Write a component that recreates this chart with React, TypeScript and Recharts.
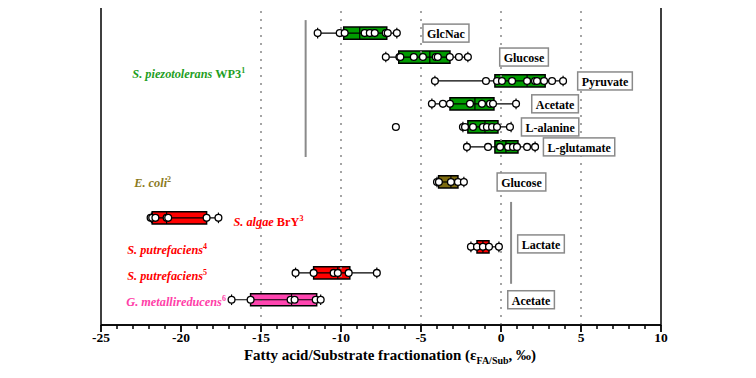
import { useLayoutEffect, useRef, useState } from 'react';
import { ComposedChart, XAxis, YAxis, Scatter, ReferenceArea, ReferenceLine } from 'recharts';

const FONT = '"Liberation Serif", "Times New Roman", serif';

// one row per box, top to bottom
const rowNames = [
  'WP3 GlcNac', 'WP3 Glucose', 'WP3 Pyruvate', 'WP3 Acetate', 'WP3 L-alanine', 'WP3 L-glutamate',
  'E. coli Glucose', 'S. algae', 'S. putrefaciens4 Lactate', 'S. putrefaciens5', 'G. metallireducens Acetate',
];
const rowPos = [1.02, 1.92, 2.82, 3.68, 4.55, 5.3, 6.62, 7.97, 9.06, 10.04, 11.05];
const minV = [-11.46, -7.2, -4.13, -4.32, -2.38, -2.13, -4.0, -21.85, -1.88, -12.84, -16.84];
const q1V = [-9.83, -6.39, -0.38, -3.19, -2.07, -0.38, -3.9, -21.8, -1.5, -11.71, -15.65];
const medV = [-8.83, -4.45, 1.63, -1.63, -1.0, 0.31, -3.13, -20.9, -1.13, -10.2, -13.09];
const q3V = [-7.14, -3.19, 2.76, -0.44, -0.19, 1.06, -2.69, -18.4, -0.75, -9.45, -11.52];
const maxV = [-6.51, -2.07, 3.88, 0.94, 0.63, 2.13, -2.32, -17.66, -0.13, -7.76, -11.27];

const rowPoints = [
  [-11.46, -10.08, -9.77, -8.52, -8.2, -7.89, -7.2, -7.08, -6.51],
  [-7.2, -6.35, -6.29, -5.45, -4.88, -4.07, -3.95, -3.2, -2.63, -2.07],
  [-4.13, -0.94, -0.25, 0.06, 0.69, 1.63, 2.13, 2.25, 2.69, 3.19, 3.88],
  [-4.32, -3.63, -3.19, -1.94, -1.19, -0.69, -0.5, 0.94],
  [-6.57, -2.38, -2.25, -1.75, -1.13, -0.88, -0.56, -0.25, 0.56],
  [-2.13, -0.81, -0.06, 0.44, 0.75, 1.0, 1.63, 2.13],
  [-4.0, -3.88, -3.13, -2.69, -2.32],
  [-21.9, -21.8, -21.6, -20.9, -20.8, -18.4, -17.66],
  [-1.88, -1.5, -1.13, -0.75, -0.13],
  [-12.84, -11.71, -10.46, -10.2, -9.52, -7.76],
  [-16.84, -15.65, -13.15, -12.9, -11.58, -11.27],
];

const substrateNames = ['GlcNac', 'Glucose', 'Pyruvate', 'Acetate', 'L-alanine', 'L-glutamate', 'Glucose', 'Lactate', 'Acetate'];
const substrateX = [-3.44, 1.44, 6.5, 3.38, 3.07, 4.88, 1.28, 2.5, 1.88];
const substrateY = [1.02, 1.92, 2.82, 3.68, 4.55, 5.3, 6.62, 8.95, 11.05];

const speciesItalic = ['S. piezotolerans', 'E. coli', 'S. algae', 'S. putrefaciens', 'S. putrefaciens', 'G. metallireducens'];
const speciesPlain = [' WP3', '', ' BrY', '', '', ''];
const speciesSup = ['1', '2', '3', '4', '5', '6'];
const speciesX = [-23.04, -22.92, -16.72, -23.36, -23.36, -23.42];
const speciesY = [2.56, 6.65, 8.12, 9.17, 10.15, 11.13];

const majorTicks = [-25, -20, -15, -10, -5, 0, 5, 10];
const minorTicks = [-24, -23, -22, -21, -19, -18, -17, -16, -14, -13, -12, -11, -9, -8, -7, -6, -4, -3, -2, -1, 1, 2, 3, 4, 6, 7, 8, 9];
const gridX = [-15, -10, -5, 0, 5];

// styling per row
const boxFill = ['#009c00', '#009c00', '#009c00', '#009c00', '#009c00', '#009c00', '#7d6b0f', '#ff0000', '#ff0000', '#ff0000', '#ff45b0'];
const speciesColor = ['#1f9e1f', '#8b7a1e', '#ff0000', '#ff0000', '#ff0000', '#ff40a8'];
const HALF = 0.23;
const CAP = 0.2;
const Y_MAX = 12;

const pointData = rowPoints.flatMap((pts, i) => pts.map((x) => ({ x, y: rowPos[i] })));
const substrateData = substrateNames.map((name, i) => ({ x: substrateX[i], y: substrateY[i], name }));
const speciesData = speciesItalic.map((it, i) => ({
  x: speciesX[i], y: speciesY[i], it, plain: speciesPlain[i], sup: speciesSup[i], color: speciesColor[i],
}));

function BoxLabel({ cx, cy, name }: { cx: number; cy: number; name: string }) {
  const ref = useRef<SVGTextElement>(null);
  const [w, setW] = useState(name.length * 6);
  useLayoutEffect(() => {
    if (ref.current) setW(ref.current.getComputedTextLength());
  }, [name]);
  return (
    <g>
      <rect x={cx - w / 2 - 4} y={cy - 9} width={w + 8} height={18} fill="#fff" stroke="#8a8a8a" strokeWidth={1.5} />
      <text ref={ref} x={cx} y={cy + 1} textAnchor="middle" dominantBaseline="central"
        fontFamily={FONT} fontWeight="bold" fontSize={12} fill="#000">
        {name}
      </text>
    </g>
  );
}

const SpeciesLabel = (props: any) => {
  const { cx, cy, payload } = props;
  return (
    <text x={cx} y={cy} dominantBaseline="central" fontFamily={FONT} fontWeight="bold" fontSize={12.3} fill={payload.color}>
      <tspan fontStyle="italic">{payload.it}</tspan>
      {payload.plain && <tspan>{payload.plain}</tspan>}
      <tspan fontSize={8} dy={-4}>{payload.sup}</tspan>
    </text>
  );
};

export default function App() {
  return (
    <div style={{ marginTop: -8, marginLeft: -8, background: '#fff', position: 'relative', width: 756, height: 378 }}>
      <ComposedChart width={756} height={378} margin={{ top: 6, right: 95, bottom: 8, left: 101 }}>
        <XAxis type="number" dataKey="x" domain={[-25, 10]} ticks={majorTicks} interval={0}
          tick={{ fontFamily: FONT, fontWeight: 'bold', fontSize: 13.5, fill: '#000' }}
          tickLine={{ stroke: '#000', strokeWidth: 1.8 }} tickSize={7} tickMargin={0}
          axisLine={{ stroke: '#000', strokeWidth: 1.5 }} height={45} />
        <YAxis type="number" dataKey="y" domain={[0, Y_MAX]} reversed width={0} tick={false} tickLine={false} axisLine={false} />

        <ReferenceArea x1={-25} x2={10} y1={0} y2={Y_MAX} fill="none" stroke="#000" strokeWidth={1.5} />
        {minorTicks.map((t) => (
          <ReferenceLine key={'m' + t} ifOverflow="visible" segment={[{ x: t, y: Y_MAX }, { x: t, y: Y_MAX + 0.15 }]} stroke="#000" strokeWidth={1.5} />
        ))}
        {gridX.map((g) => (
          <ReferenceLine key={g} x={g} stroke="#8f8f8f" strokeWidth={1.6} strokeDasharray="2 6" />
        ))}
        <ReferenceLine segment={[{ x: -12.21, y: 0.53 }, { x: -12.21, y: 5.68 }]} stroke="#8a8a8a" strokeWidth={2} />
        <ReferenceLine segment={[{ x: 0.63, y: 7.37 }, { x: 0.63, y: 10.45 }]} stroke="#8a8a8a" strokeWidth={2} />

        {rowNames.map((n, i) => (
          <ReferenceLine key={n + 'w'} segment={[{ x: minV[i], y: rowPos[i] }, { x: maxV[i], y: rowPos[i] }]} stroke="#000" strokeWidth={1.2} />
        ))}
        {rowNames.map((n, i) => (
          <ReferenceLine key={n + 'c1'} segment={[{ x: minV[i], y: rowPos[i] - CAP }, { x: minV[i], y: rowPos[i] + CAP }]} stroke="#000" strokeWidth={1.2} />
        ))}
        {rowNames.map((n, i) => (
          <ReferenceLine key={n + 'c2'} segment={[{ x: maxV[i], y: rowPos[i] - CAP }, { x: maxV[i], y: rowPos[i] + CAP }]} stroke="#000" strokeWidth={1.2} />
        ))}
        {rowNames.map((n, i) => (
          <ReferenceArea key={n + 'b'} x1={q1V[i]} x2={q3V[i]} y1={rowPos[i] - HALF} y2={rowPos[i] + HALF}
            fill={boxFill[i]} fillOpacity={1} stroke="#000" strokeWidth={1.5} />
        ))}
        {rowNames.map((n, i) => (
          <ReferenceLine key={n + 'm'} segment={[{ x: medV[i], y: rowPos[i] - HALF }, { x: medV[i], y: rowPos[i] + HALF }]} stroke="#000" strokeWidth={1.2} />
        ))}

        <Scatter data={pointData} isAnimationActive={false}
          shape={(p: any) => <circle cx={p.cx} cy={p.cy} r={3.4} fill="#fff" stroke="#000" strokeWidth={1.3} />} />
        <Scatter data={substrateData} isAnimationActive={false}
          shape={(p: any) => <BoxLabel cx={p.cx} cy={p.cy} name={p.payload.name} />} />
        <Scatter data={speciesData} isAnimationActive={false} shape={<SpeciesLabel />} />
      </ComposedChart>
      <div style={{
        position: 'absolute', left: 0, width: 756, top: 347, lineHeight: '17px', textAlign: 'center', paddingLeft: 24,
        boxSizing: 'border-box', fontFamily: FONT, fontWeight: 'bold', fontSize: 15, color: '#000',
      }}>
        Fatty acid/Substrate fractionation (ε<sub style={{ fontSize: 10, lineHeight: 0 }}>FA/Sub</sub>, ‰)
      </div>
    </div>
  );
}
